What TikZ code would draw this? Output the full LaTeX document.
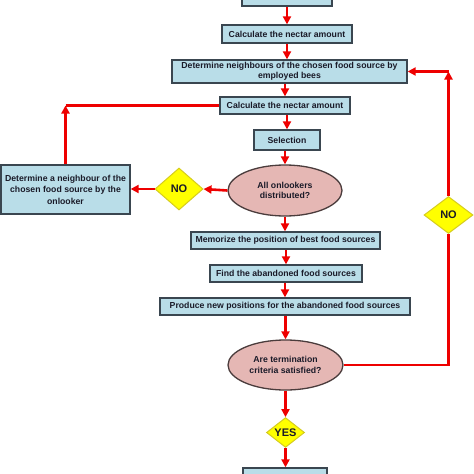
\documentclass[tikz,border=0pt]{standalone}
\usepackage{fontspec}
\setmainfont{Liberation Sans}
\usetikzlibrary{shapes.geometric,arrows.meta}
\definecolor{boxfill}{HTML}{B9DDE8}
\definecolor{boxline}{HTML}{3A4650}
\definecolor{ellfill}{HTML}{E5B7B4}
\definecolor{ellline}{HTML}{4A3C3C}
\definecolor{dfill}{HTML}{FFFF00}
\definecolor{dline}{HTML}{D6CC1E}
\definecolor{arr}{HTML}{EE0000}
\definecolor{txt}{HTML}{1A1A28}
\tikzset{
  stepbox/.style={draw=boxline, fill=boxfill, line width=1.3pt, rectangle, align=center, inner sep=1pt, font=\fontsize{8.7}{9.6}\selectfont\bfseries, text=txt},
  decell/.style={draw=ellline, fill=ellfill, line width=1.3pt, ellipse, align=center, inner sep=0pt, font=\fontsize{8.7}{10.5}\selectfont\bfseries, text=txt},
  decdia/.style={draw=dline, fill=dfill, line width=1pt, diamond, align=center, inner sep=0pt, font=\fontsize{11}{12}\selectfont\bfseries, text=txt},
  flow/.style={draw=arr, line width=2.6pt, -{Triangle[length=8pt,width=8pt]}},
  flowline/.style={draw=arr, line width=2.6pt}
}
\begin{document}
\begin{tikzpicture}[x=1pt,y=-1pt]
\clip (0,0) rectangle (474,474);
\fill[white] (0,0) rectangle (474,474);
\node[stepbox, minimum width=90pt, minimum height=16pt] (top) at (287,-2) {};
\node[stepbox, minimum width=130pt, minimum height=18pt] (calc1) at (287,34) {Calculate the nectar amount};
\node[stepbox, minimum width=235pt, minimum height=23pt] (det) at (289.5,71.5) {Determine neighbours of the chosen food source by\\employed bees};
\node[stepbox, minimum width=130pt, minimum height=17pt] (calc2) at (285,105.5) {Calculate the nectar amount};
\node[stepbox, minimum width=66pt, minimum height=20pt] (sel) at (287,140) {Selection};
\node[decell, minimum width=114pt, minimum height=51pt] (ell1) at (285,190.5) {All onlookers\\distributed?};
\node[decdia, minimum width=48pt, minimum height=42pt] (no1) at (179,189) {NO};
\node[stepbox, minimum width=129pt, minimum height=49pt, font=\fontsize{8.7}{11.5}\selectfont\bfseries] (left) at (65.5,189.5) {Determine a neighbour of the\\chosen food source by the\\onlooker};
\node[stepbox, minimum width=189pt, minimum height=17pt] (mem) at (285.5,240.5) {Memorize the position of best food sources};
\node[stepbox, minimum width=152pt, minimum height=17pt] (find) at (286,273.5) {Find the abandoned food sources};
\node[stepbox, minimum width=250pt, minimum height=17pt] (prod) at (285,306.5) {Produce new positions for the abandoned food sources};
\node[decell, minimum width=115pt, minimum height=50pt] (ell2) at (285.5,365) {Are termination\\criteria satisfied?};
\node[decdia, minimum width=49pt, minimum height=37pt] (no2) at (448.5,215) {NO};
\node[decdia, minimum width=38pt, minimum height=28pt] (yes) at (285.5,432.5) {YES};
\node[stepbox, minimum width=84pt, minimum height=24pt] (bot) at (285,480) {};
\coordinate (cl) at (65.5,105.5);
\coordinate (cr) at (448.5,71.5);

\draw[flow] (top.south -| 287,0) -- (calc1.north);
\draw[flow] (calc1.south) -- (calc1.south |- det.north);
\draw[flow] (calc2.north |- det.south) -- (calc2.north);
\draw[flow] (calc2.south -| 287,0) -- (sel.north);
\draw[flow] (sel.south -| ell1.north) -- (ell1.north);
\draw[flow] (ell1.west) -- (no1.east);
\draw[flow] (no1.west) -- (left.east |- no1.west);
\draw[flow] (left.north) -- (cl);
\draw[flowline] (cl) -- (calc2.west);
\draw[flow] (ell1.south) -- (ell1.south |- mem.north);
\draw[flow] (mem.south -| find.north) -- (find.north);
\draw[flow] (find.south -| prod.north) -- (prod.north);
\draw[flow] (prod.south -| ell2.north) -- (ell2.north);
\draw[flowline] (ell2.east) -- (ell2.east -| no2.south) -- (no2.south);
\draw[flow] (no2.north) -- (cr);
\draw[flow] (cr) -- (det.east);
\draw[flow] (ell2.south) -- (yes.north);
\draw[flow] (yes.south) -- (yes.south |- bot.north);
\end{tikzpicture}
\end{document}
